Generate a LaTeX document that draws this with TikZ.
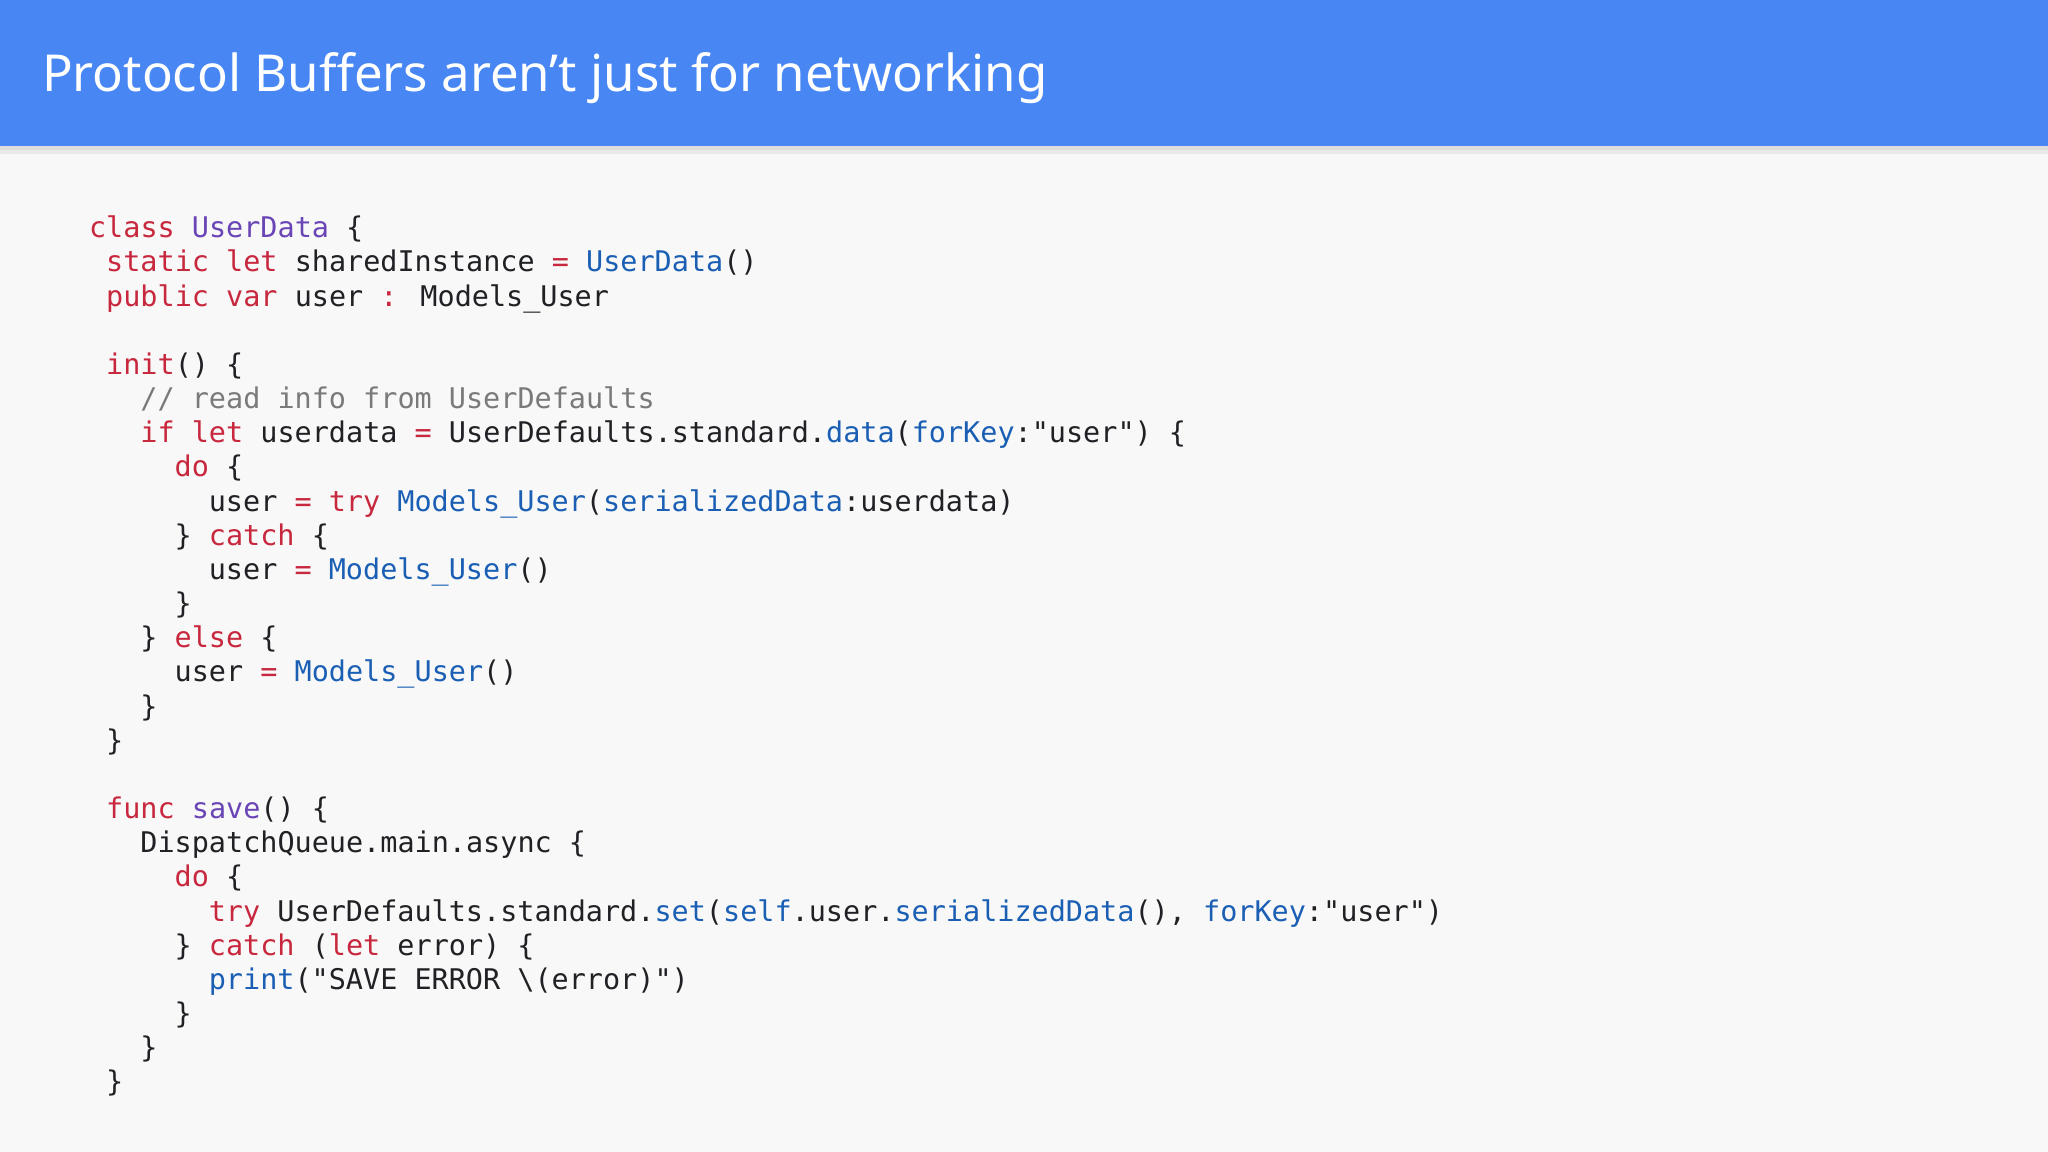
\documentclass[tikz,border=0pt]{standalone}
\usepackage{fontspec}
\setmainfont{Noto Sans}
\newfontfamily\codefont{DejaVu Sans Mono}
\definecolor{hdr}{HTML}{4786F3}
\definecolor{bg}{HTML}{F8F8F8}
\definecolor{kw}{HTML}{C8283E}
\definecolor{fn}{HTML}{1A5FB4}
\definecolor{pu}{HTML}{6A45B5}
\definecolor{cm}{HTML}{7A7A7A}
\definecolor{tx}{HTML}{202124}
\newcommand\K[1]{\textcolor{kw}{#1}}
\newcommand\B[1]{\textcolor{fn}{#1}}
\newcommand\Pu[1]{\textcolor{pu}{#1}}
\newcommand\Cm[1]{\textcolor{cm}{#1}}
\begin{document}
\begin{tikzpicture}[x=1pt,y=-1pt,
  codeline/.style={anchor=base west,inner sep=0pt,text=tx,font=\codefont\fontsize{21.8}{26}\selectfont}]
\useasboundingbox (0,0) rectangle (1568,882);
\fill[bg] (0,0) rectangle (1568,882);
\fill[black,opacity=0.06] (0,112) rectangle (1568,118);
\fill[black,opacity=0.05] (0,112) rectangle (1568,115);
\fill[hdr] (0,0) rectangle (1568,112);
\node[anchor=base west,inner sep=0pt,text=white,font=\fontsize{39}{44}\selectfont] (title) at (32,70) {Protocol Buffers aren’t just for networking};
\def\cw{13.1}
\def\lh{26.16}
\foreach \ind/\n/\t in {
 0/0/{\K{class} \Pu{UserData} \{},
 1/1/{\K{static let} sharedInstance \K{=} \B{UserData}()},
 1/2/{\K{public var} user \K{:} Models\_User},
 1/4/{\K{init}() \{},
 3/5/{\Cm{// read info from UserDefaults}},
 3/6/{\K{if let} userdata \K{=} UserDefaults.standard.\B{data}(\B{forKey}:"user") \{},
 5/7/{\K{do} \{},
 7/8/{user \K{=} \K{try} \B{Models\_User}(\B{serializedData}:userdata)},
 5/9/{\} \K{catch} \{},
 7/10/{user \K{=} \B{Models\_User}()},
 5/11/{\}},
 3/12/{\} \K{else} \{},
 5/13/{user \K{=} \B{Models\_User}()},
 3/14/{\}},
 1/15/{\}},
 1/17/{\K{func} \Pu{save}() \{},
 3/18/{DispatchQueue.main.async \{},
 5/19/{\K{do} \{},
 7/20/{\K{try} UserDefaults.standard.\B{set}(\B{self}.user.\B{serializedData}(), \B{forKey}:"user")},
 5/21/{\} \K{catch} (\K{let} error) \{},
 7/22/{\B{print}("SAVE ERROR \textbackslash(error)")},
 5/23/{\}},
 3/24/{\}},
 1/25/{\}}}
 \node[codeline] (l\n) at ({68+\ind*\cw},{182+\n*\lh}) {\t};
\end{tikzpicture}
\end{document}
